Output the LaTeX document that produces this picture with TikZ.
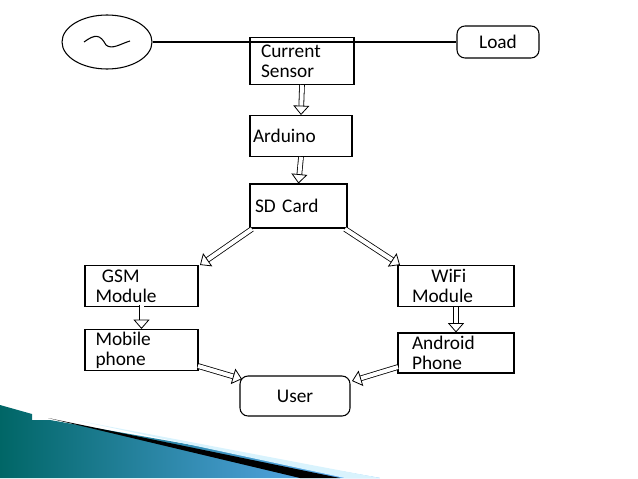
\documentclass[tikz,border=0pt]{standalone}
\usepackage{fontspec}
\setmainfont{Carlito}
\usetikzlibrary{arrows.meta,positioning,shapes.geometric}

\begin{document}
\begin{tikzpicture}[x=0.75pt,y=-0.75pt,
    box/.style={rectangle, draw, thick, inner sep=0pt, font=\fontsize{14.5}{15}\selectfont, align=left},
    rbox/.style={box, rounded corners=6pt},
    hollow/.style={draw, double, double distance=3pt, semithick, -{Triangle[open, length=7pt, width=12pt]}}]
    \def\u{0.75pt}
    \useasboundingbox (0,0) rectangle (638,478);
    % bottom left decoration
    \shade[left color=teal!80!black, right color=cyan!50!blue!60] (0,405) -- (32,414) -- (32,420) -- (50,420) -- (380,478) -- (0,478) -- cycle;
    \fill[black] (48,418) -- (340,478) -- (300,478) -- cycle;
    \fill[cyan!15] (80,421) -- (380,478) -- (345,478) -- cycle;

    \node(src) [ellipse, draw, thick, minimum width=90*\u, minimum height=54*\u] at (107,42) {};
    \draw[thick] (84,42) .. controls (95,34) and (100,34) .. (106,45) .. controls (112,50) and (120,44) .. (130,41);
    \node(load) [rbox, minimum width=82*\u, minimum height=32*\u] at (498,42) {Load};
    \node(sensor) [box, minimum width=104*\u, minimum height=47*\u, text width=82*\u] at (302,61) {Current\\Sensor};
    \node(ard) [box, minimum width=102*\u, minimum height=41*\u, text width=96*\u] at (301,136) {Arduino};
    \node(sd) [box, minimum width=97*\u, minimum height=44*\u, text width=87*\u] at (298.5,206) {SD Card};
    \node(gsm) [box, minimum width=113*\u, minimum height=41*\u, text width=92*\u] at (141.5,286) {\ GSM\\Module};
    \node(wifi) [box, minimum width=116*\u, minimum height=41*\u, text width=88*\u] at (456,286) {\ \ \ WiFi\\Module};
    \node(mob) [box, minimum width=113*\u, minimum height=41*\u, text width=92*\u] at (141.5,350) {Mobile\\phone};
    \node(andr) [box, minimum width=116*\u, minimum height=40*\u, text width=88*\u] at (456,353) {Android\\Phone};
    \node(user) [rbox, minimum width=110*\u, minimum height=40*\u] at (295,396) {User};

    \coordinate (mobout) at (198,366);
    \coordinate (androut) at (398,367);
    \coordinate (sdl) at (252,229);
    \coordinate (sdr) at (345,229);
    \coordinate (gsmout) at (141.5,305);

    \draw[thick] (src.east) -- (load.west);
    \draw[hollow] (sensor.south) -- (ard.north);
    \draw[hollow] (ard.south) -- (sd.north);
    \draw[hollow] (sdl) -- (200,265);
    \draw[hollow] (sdr) -- (400,265);
    \draw[hollow] (gsmout) -- (mob.north);
    \draw[hollow] (wifi.south) -- (andr.north);
    \draw[hollow] (mobout) -- (242,379);
    \draw[hollow] (androut) -- (352,381);
\end{tikzpicture}
\end{document}
